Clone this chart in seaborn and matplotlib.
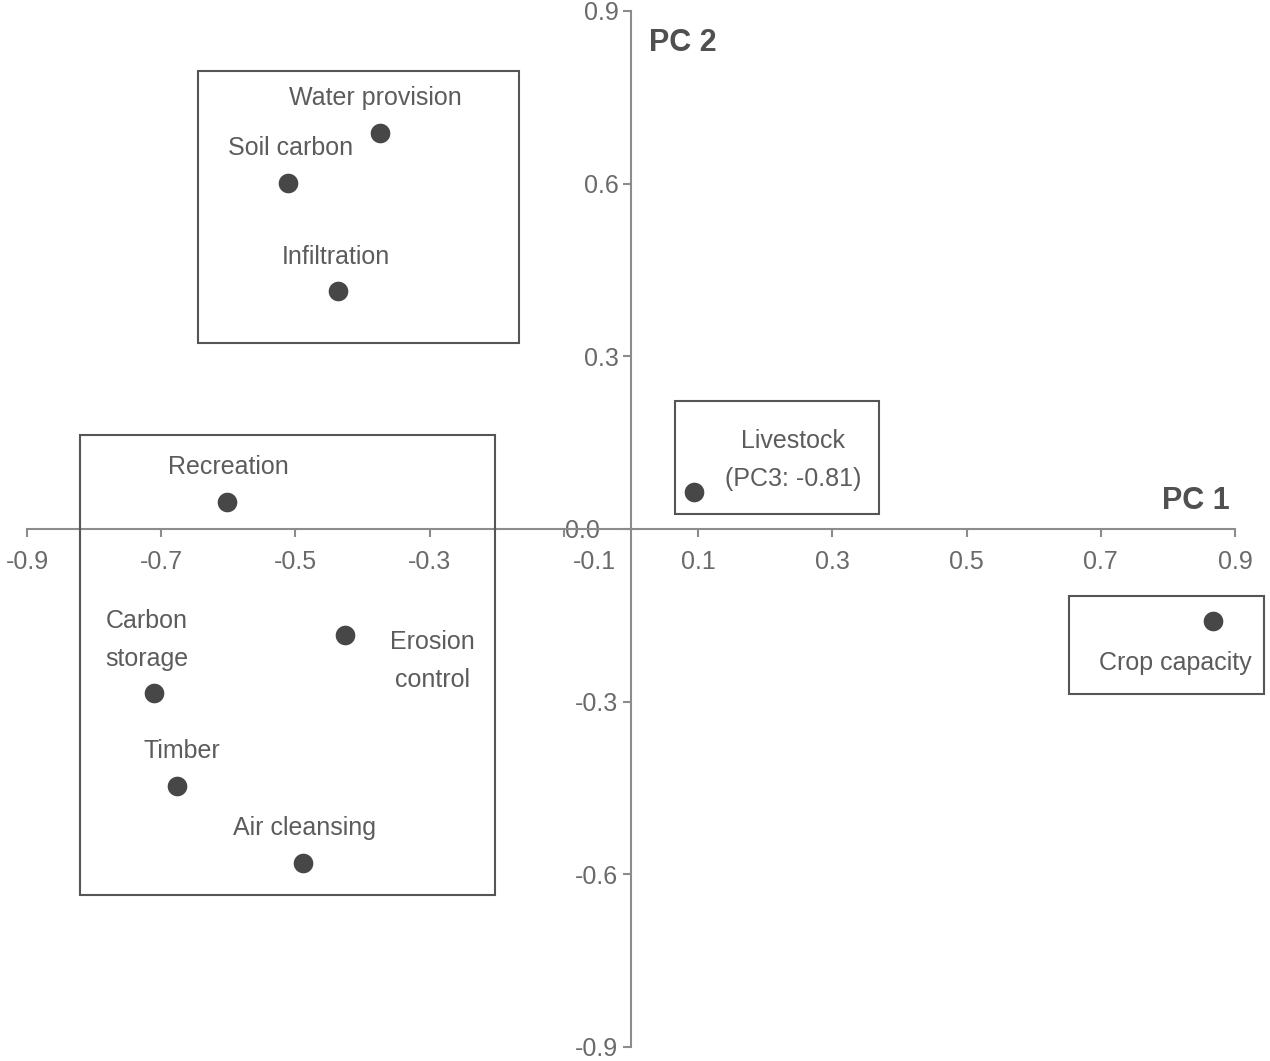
import matplotlib
matplotlib.use("Agg")
import matplotlib.pyplot as plt
import matplotlib.transforms as mtransforms
from matplotlib.patches import Rectangle
import seaborn as sns
import pandas as pd

# ---- data ----
services = ["Water provision", "Soil carbon", "Infiltration", "Recreation",
            "Erosion control", "Carbon storage", "Timber", "Air cleansing",
            "Livestock", "Crop capacity"]
pc1 = [-0.374, -0.511, -0.437, -0.602, -0.426, -0.711, -0.677, -0.489, 0.094, 0.867]
pc2 = [0.688, 0.601, 0.413, 0.047, -0.184, -0.285, -0.446, -0.580, 0.064, -0.160]
group = [1, 1, 1, 2, 2, 2, 2, 2, 3, 4]
label_text = ["Water provision", "Soil carbon", "Infiltration", "Recreation",
              "Erosion\ncontrol", "Carbon\nstorage", "Timber", "Air cleansing",
              "Livestock\n(PC3: -0.81)", "Crop capacity"]
x_ticks = [-0.9, -0.7, -0.5, -0.3, -0.1, 0.1, 0.3, 0.5, 0.7, 0.9]
y_ticks = [-0.9, -0.6, -0.3, 0.0, 0.3, 0.6, 0.9]

df = pd.DataFrame({"service": services, "PC1": pc1, "PC2": pc2, "group": group})

# ---- style ----
label_offsets = {  # points
    "Water provision": (-3, 25), "Soil carbon": (2, 25), "Infiltration": (-1, 25),
    "Recreation": (1, 25), "Erosion control": (63, -19), "Carbon storage": (-5, 38),
    "Timber": (4, 25), "Air cleansing": (1, 25), "Livestock": (71, 23),
    "Crop capacity": (-27, -30),
}
# box padding around each group's points (data units): left, right, bottom, top
box_pad = {1: (0.134, 0.207, 0.090, 0.108),
           2: (0.110, 0.223, 0.056, 0.116),
           3: (0.028, 0.276, 0.038, 0.158),
           4: (0.214, 0.076, 0.127, 0.044)}

text_col = "#5c5c5c"
tick_col = "#6a6a6a"
axis_col = "#8c8c8c"
point_col = "#474747"
box_col = "#555555"

sns.set_theme(style="white")
plt.rcParams["font.family"] = ["Liberation Sans", "DejaVu Sans"]

fig = plt.figure(figsize=(12.7, 10.61), dpi=100)
ax = fig.add_axes([27 / 1270, 14 / 1061, 1208 / 1270, 1036 / 1061])

sns.scatterplot(data=df, x="PC1", y="PC2", ax=ax, s=200, color=point_col,
                edgecolor=point_col, linewidth=0, zorder=5, clip_on=False, legend=False)

ax.set_xlim(-0.9, 0.9)
ax.set_ylim(-0.9, 0.9)

for sp in ["top", "right"]:
    ax.spines[sp].set_visible(False)
for sp in ["left", "bottom"]:
    ax.spines[sp].set_position(("data", 0))
    ax.spines[sp].set_color(axis_col)
    ax.spines[sp].set_linewidth(1.5)

ax.set_xticks(x_ticks)
ax.set_xticklabels([f"{t:.1f}" for t in x_ticks])
ax.set_yticks(y_ticks)
ax.set_yticklabels([f"{t:.1f}" for t in y_ticks])
ax.tick_params(axis="x", direction="out", length=6, width=1.5, color=axis_col,
               labelsize=18, labelcolor=tick_col, pad=9, bottom=True)
ax.tick_params(axis="y", direction="out", length=6, width=1.5, color=axis_col,
               labelsize=18, labelcolor=tick_col, pad=3, left=True)
ax.set_xlabel("")
ax.set_ylabel("")

# shift the crowded labels near the origin
for lbl in ax.get_xticklabels():
    if lbl.get_text() == "-0.1":
        lbl.set_transform(lbl.get_transform() +
                          mtransforms.ScaledTranslation(31 / 100, 0, fig.dpi_scale_trans))
for lbl in ax.get_yticklabels():
    if lbl.get_text() == "0.0":
        lbl.set_transform(lbl.get_transform() +
                          mtransforms.ScaledTranslation(-19 / 100, 0, fig.dpi_scale_trans))

# point labels
for name, txt, x, y in zip(services, label_text, pc1, pc2):
    dx, dy = label_offsets[name]
    ax.annotate(txt, (x, y), xytext=(dx, dy), textcoords="offset points",
                ha="center", va="center", fontsize=18, color=text_col,
                linespacing=1.72, annotation_clip=False)

# group boxes
for g, (pl, pr, pb, pt) in box_pad.items():
    sub = df[df["group"] == g]
    x0 = sub["PC1"].min() - pl
    x1 = sub["PC1"].max() + pr
    y0 = sub["PC2"].min() - pb
    y1 = sub["PC2"].max() + pt
    ax.add_patch(Rectangle((x0, y0), x1 - x0, y1 - y0, fill=False,
                           edgecolor=box_col, linewidth=1.5, clip_on=False, zorder=3))

# axis titles
ax.text(0.842, 0.049, "PC 1", fontsize=22, fontweight="bold", color="#505050",
        ha="center", va="center")
ax.text(0.077, 0.845, "PC 2", fontsize=22, fontweight="bold", color="#505050",
        ha="center", va="center")

fig.savefig("out.png", dpi=100)
